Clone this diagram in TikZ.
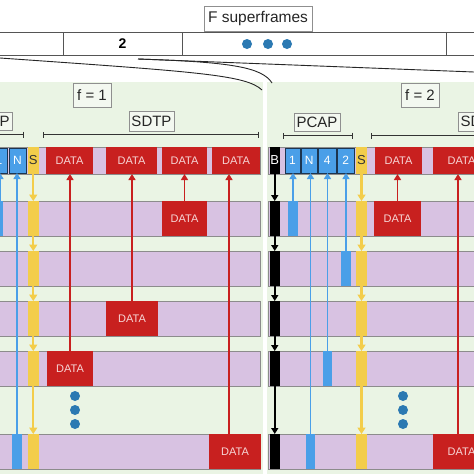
\documentclass[tikz,border=0pt]{standalone}
\usepackage{fontspec}
\setmainfont{Liberation Sans}
\usetikzlibrary{arrows.meta,calc}
\definecolor{pgreen}{HTML}{EAF4E4}
\definecolor{ppurple}{HTML}{D8C2E2}
\definecolor{dred}{HTML}{C8201F}
\definecolor{dtext}{HTML}{F6D6D6}
\definecolor{bblue}{HTML}{4A9FE8}
\definecolor{navy}{HTML}{1C3550}
\definecolor{yel}{HTML}{F3CD4A}
\definecolor{dotb}{HTML}{2B79B2}
\definecolor{rowedge}{HTML}{8C8C8C}
\definecolor{lblgray}{HTML}{8F8F8F}
\definecolor{lblfill}{HTML}{F3F8F0}
\definecolor{barline}{HTML}{555555}
\newcommand\fs[1]{\fontsize{#1}{#1}\selectfont}
\newcommand\bx[7]{\pgfmathsetmacro\bxw{#5-#3}\pgfmathsetmacro\bxh{#6-#4}%
  \node[#2,minimum width=\bxw pt,minimum height=\bxh pt,anchor=north west,inner sep=0pt,outer sep=0pt] (#1) at (#3,#4) {#7};}
\begin{document}
\begin{tikzpicture}[x=1pt,y=-1pt,
  rowbg/.style={draw=rowedge,line width=0.8pt,fill=ppurple},
  panel/.style={fill=pgreen},
  cell/.style={draw=barline,line width=0.9pt,fill=white},
  datab/.style={fill=dred,text=dtext,font=\fs{11}},
  bluebox/.style={fill=bblue,draw=navy,line width=0.8pt,text=white,font=\fs{12}},
  bluebar/.style={fill=bblue},
  yelbar/.style={fill=yel},
  yelbox/.style={fill=yel,text=black!80,font=\fs{13}},
  blkbar/.style={fill=black},
  blkbox/.style={fill=black,text=white,font=\fs{13}},
  lbl/.style={draw=lblgray,line width=0.9pt,fill=lblfill,text=black!85,font=\fs{15}},
  toplbl/.style={draw=lblgray,line width=0.9pt,fill=white,text=black!85,font=\fs{15.5}},
  tip/.style={-{Triangle[width=7pt,length=6pt]}},
  redarr/.style={draw=dred,line width=1.3pt,tip},
  bluearr/.style={draw=bblue,line width=1.3pt,tip},
  yelarr/.style={draw=yel,line width=2.2pt,-{Triangle[width=8pt,length=6.5pt]}},
  blkarr/.style={draw=black,line width=1.6pt,tip},
  brk/.style={draw=black!80,line width=0.9pt,{Bar[width=6pt]}-{Bar[width=6pt]}},
  dotn/.style={circle,fill=dotb,minimum size=10pt,inner sep=0pt},
  zoomline/.style={draw=black!85,line width=0.9pt}]
\useasboundingbox (0,0) rectangle (474,474);
\clip (0,0) rectangle (474,474);
\fill[white] (0,0) rectangle (474,474);

% ---------- top superframe bar ----------
\bx{sf1}{cell}{-60}{32.5}{63}{55}{}
\bx{sf2}{cell,font=\fs{14}\bfseries}{63}{32.5}{182}{55}{2}
\bx{sf3}{cell}{182}{32.5}{446}{55}{}
\bx{sf4}{cell}{446}{32.5}{540}{55}{}
\bx{fsup}{toplbl}{204}{6}{312}{31}{F superframes}
\node[dotn] (td1) at (247,44) {};
\node[dotn] (td2) at (268,44) {};
\node[dotn] (td3) at (287,44) {};

% ---------- panels ----------
\bx{pL}{panel}{-10}{82}{263}{480}{}
\bx{pR}{panel}{267}{82}{490}{480}{}

% zoom lines
\coordinate (za) at (0,58);
\coordinate (zb) at (138,59);
\coordinate (zaE) at (262,90);
\coordinate (zbE) at (272,83);
\coordinate (zcE) at (474,72);
\draw[zoomline] (za) .. controls (200,72) and (246,75) .. (zaE);
\draw[zoomline] (zb) .. controls (230,62) and (262,67) .. (zbE);
\draw[zoomline] (zb) -- (zcE);

% ---------- left panel rows ----------
\bx{sL}{rowbg}{-10}{147}{260}{174}{}
\bx{rL1}{rowbg}{-10}{201}{260}{236}{}
\bx{rL2}{rowbg}{-10}{251}{260}{286}{}
\bx{rL3}{rowbg}{-10}{301}{260}{336}{}
\bx{rL4}{rowbg}{-10}{351}{260}{386}{}
\bx{rL5}{rowbg}{-10}{434}{260}{469}{}

% schedule (left)
\bx{bL1}{bluebox}{-9}{148}{7}{173}{1}
\bx{bLN}{bluebox}{9}{148}{26}{173}{N}
\bx{yLS}{yelbox}{28}{147}{38.5}{174}{S}
\bx{dL1}{datab}{46}{147}{93}{174}{DATA}
\bx{dL2}{datab}{106}{147}{157}{174}{DATA}
\bx{dL3}{datab}{162}{147}{207}{174}{DATA}
\bx{dL4}{datab}{212}{147}{260}{174}{DATA}

% row contents (left)
\bx{qL1}{bluebar}{-7}{201}{3}{236}{}
\bx{qLN}{bluebar}{12}{434}{22}{469}{}
\bx{yL1}{yelbar}{28}{201}{38.5}{236}{}
\bx{yL2}{yelbar}{28}{251}{38.5}{286}{}
\bx{yL3}{yelbar}{28}{301}{38.5}{336}{}
\bx{yL4}{yelbar}{28}{351}{38.5}{386}{}
\bx{yL5}{yelbar}{28}{434}{38.5}{469}{}
\bx{eL3}{datab}{162}{201}{207}{236}{DATA}
\bx{eL2}{datab}{106}{301}{158}{336}{DATA}
\bx{eL1}{datab}{47}{351}{93}{386}{DATA}
\bx{eL4}{datab}{209}{434}{261}{469}{DATA}

% ---------- right panel rows ----------
\bx{sR}{rowbg}{268}{147}{490}{174}{}
\bx{rR1}{rowbg}{268}{201}{490}{236}{}
\bx{rR2}{rowbg}{268}{251}{490}{286}{}
\bx{rR3}{rowbg}{268}{301}{490}{336}{}
\bx{rR4}{rowbg}{268}{351}{490}{386}{}
\bx{rR5}{rowbg}{268}{434}{490}{469}{}

% schedule (right)
\bx{kB}{blkbox}{269.5}{147}{280}{174}{B}
\bx{bR1}{bluebox}{285}{148}{300}{173}{1}
\bx{bRN}{bluebox}{301.5}{148}{317}{173}{N}
\bx{bR4}{bluebox}{318.5}{148}{336}{173}{4}
\bx{bR2}{bluebox}{337.5}{148}{354}{173}{2}
\bx{yRS}{yelbox}{356}{147}{367}{174}{S}
\bx{dR1}{datab}{375}{147}{422}{174}{DATA}
\bx{dR2}{datab}{433}{147}{490}{174}{DATA}

% row contents (right)
\bx{kR1}{blkbar}{269.5}{201}{280}{236}{}
\bx{kR2}{blkbar}{269.5}{251}{280}{286}{}
\bx{kR3}{blkbar}{269.5}{301}{280}{336}{}
\bx{kR4}{blkbar}{269.5}{351}{280}{386}{}
\bx{kR5}{blkbar}{269.5}{434}{280}{469}{}
\bx{yR1}{yelbar}{356}{201}{367}{236}{}
\bx{yR2}{yelbar}{356}{251}{367}{286}{}
\bx{yR3}{yelbar}{356}{301}{367}{336}{}
\bx{yR4}{yelbar}{356}{351}{367}{386}{}
\bx{yR5}{yelbar}{356}{434}{367}{469}{}
\bx{qR1}{bluebar}{288}{201}{298}{236}{}
\bx{qR2}{bluebar}{341}{251}{351}{286}{}
\bx{qR4}{bluebar}{323}{351}{332}{386}{}
\bx{qRN}{bluebar}{306}{434}{315}{469}{}
\bx{eR1}{datab}{374}{201}{421}{236}{DATA}
\bx{eR2}{datab}{433}{434}{490}{469}{DATA}

% dots
\node[dotn] (dl1) at (75,396) {};
\node[dotn] (dl2) at (75,410) {};
\node[dotn] (dl3) at (75,424) {};
\node[dotn] (dr1) at (403,396) {};
\node[dotn] (dr2) at (403,410) {};
\node[dotn] (dr3) at (403,424) {};

% ---------- connectors (left) ----------
\draw[bluearr] ([xshift=2pt]qL1.north) -- ([xshift=2pt]qL1.north |- bL1.south);
\draw[bluearr] (qLN.north) -- (qLN.north |- bLN.south);
\draw[yelarr] (yLS.south) -- (yL1.north);
\draw[yelarr] (yL1.south) -- (yL2.north);
\draw[yelarr] (yL2.south) -- (yL3.north);
\draw[yelarr] (yL3.south) -- (yL4.north);
\draw[yelarr] (yL4.south) -- (yL5.north);
\draw[redarr] (eL1.north) -- (eL1.north |- dL1.south);
\draw[redarr] (eL2.north) -- (eL2.north |- dL2.south);
\draw[redarr] (eL3.north) -- (eL3.north |- dL3.south);
\draw[redarr] ([xshift=-6pt]eL4.north) -- ([xshift=-6pt]eL4.north |- dL4.south);

% ---------- connectors (right) ----------
\draw[blkarr] (kB.south) -- (kR1.north);
\draw[blkarr] (kR1.south) -- (kR2.north);
\draw[blkarr] (kR2.south) -- (kR3.north);
\draw[blkarr] (kR3.south) -- (kR4.north);
\draw[blkarr] (kR4.south) -- (kR5.north);
\draw[bluearr] (qR1.north) -- (qR1.north |- bR1.south);
\draw[bluearr] (qRN.north) -- (qRN.north |- bRN.south);
\draw[bluearr] (qR4.north) -- (qR4.north |- bR4.south);
\draw[bluearr] (qR2.north) -- (qR2.north |- bR2.south);
\draw[yelarr] (yRS.south) -- (yR1.north);
\draw[yelarr] (yR1.south) -- (yR2.north);
\draw[yelarr] (yR2.south) -- (yR3.north);
\draw[yelarr] (yR3.south) -- (yR4.north);
\draw[yelarr] (yR4.south) -- (yR5.north);
\draw[redarr] (eR1.north) -- (eR1.north |- dR1.south);
\draw[redarr] ([xshift=-3.5pt]eR2.north) -- ([xshift=-3.5pt]eR2.north |- dR2.south);

% ---------- labels and brackets ----------
\bx{fL}{lbl}{73}{83}{111}{107}{f = 1}
\bx{fR}{lbl}{401}{83}{439}{107}{f = 2}
\bx{pcL}{lbl}{-34}{112}{12.5}{130}{PCAP}
\bx{sdL}{lbl}{129}{111}{174}{131}{SDTP}
\bx{pcR}{lbl}{294}{113}{340}{131}{PCAP}
\bx{sdR}{lbl}{458}{112}{503}{131}{SDTP}
\coordinate (bpl1) at (-46,134.5); \coordinate (bpl2) at (24,134.5);
\coordinate (bsl1) at (43,134.5);  \coordinate (bsl2) at (259,134.5);
\coordinate (bpr1) at (283,135.5); \coordinate (bpr2) at (353,135.5);
\coordinate (bsr1) at (371,135.5); \coordinate (bsr2) at (520,135.5);
\draw[brk] (bpl1) -- (bpl2);
\draw[brk] (bsl1) -- (bsl2);
\draw[brk] (bpr1) -- (bpr2);
\draw[brk] (bsr1) -- (bsr2);
\end{tikzpicture}
\end{document}
